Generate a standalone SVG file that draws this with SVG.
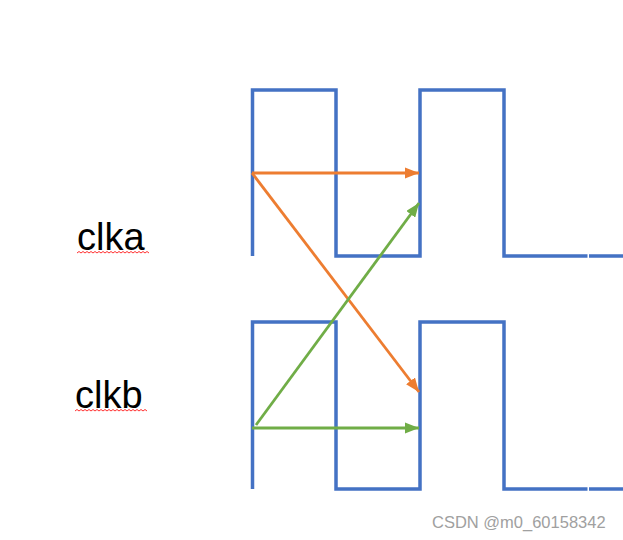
<svg xmlns="http://www.w3.org/2000/svg" width="623" height="540" viewBox="0 0 623 540">
<style>
.wave{fill:none;stroke:#4472C4;stroke-width:3.5;stroke-linejoin:miter}
.lbl{font-family:"Liberation Sans",Arial,sans-serif;font-size:38px;fill:#000}
.sq{fill:none;stroke:#FF3030;stroke-width:1}
.or{stroke:#ED7D31;stroke-width:2.8;fill:none}
.gr{stroke:#70AD47;stroke-width:2.8;fill:none}
.wm{font-family:"Liberation Sans",Arial,sans-serif;font-size:16.5px;fill:#a0a0a0}
</style>
<defs>
<marker id="ao" markerWidth="5" markerHeight="4" refX="5" refY="2" orient="auto" markerUnits="strokeWidth"><path d="M0,0 L5,2 L0,4 Z" fill="#ED7D31"/></marker>
<marker id="ag" markerWidth="5" markerHeight="4" refX="5" refY="2" orient="auto" markerUnits="strokeWidth"><path d="M0,0 L5,2 L0,4 Z" fill="#70AD47"/></marker>
</defs>
<rect width="623" height="540" fill="#fff"/>
<g id="clka">
<path class="wave" d="M252.5,256 V90 H336 V256 H420 V90 H504 V256 H587.5 M589,256 H623"/>
<text class="lbl" x="77" y="250">clka</text>
<path class="sq" d="M77,253 l2,-1.5 l2,1.5 l2,-1.5 l2,1.5 l2,-1.5 l2,1.5 l2,-1.5 l2,1.5 l2,-1.5 l2,1.5 l2,-1.5 l2,1.5 l2,-1.5 l2,1.5 l2,-1.5 l2,1.5 l2,-1.5 l2,1.5 l2,-1.5 l2,1.5 l2,-1.5 l2,1.5 l2,-1.5 l2,1.5 l2,-1.5 l2,1.5 l2,-1.5 l2,1.5 l2,-1.5 l2,1.5 l2,-1.5 l2,1.5 l2,-1.5 l2,1.5 l2,-1.5 l2,1.5"/>
</g>
<g id="clkb">
<path class="wave" d="M252.5,489 V322 H336 V489 H420 V322 H504 V489 H587.5 M589,489 H623"/>
<text class="lbl" x="75" y="408">clkb</text>
<path class="sq" d="M75,411 l2,-1.5 l2,1.5 l2,-1.5 l2,1.5 l2,-1.5 l2,1.5 l2,-1.5 l2,1.5 l2,-1.5 l2,1.5 l2,-1.5 l2,1.5 l2,-1.5 l2,1.5 l2,-1.5 l2,1.5 l2,-1.5 l2,1.5 l2,-1.5 l2,1.5 l2,-1.5 l2,1.5 l2,-1.5 l2,1.5 l2,-1.5 l2,1.5 l2,-1.5 l2,1.5 l2,-1.5 l2,1.5 l2,-1.5 l2,1.5 l2,-1.5 l2,1.5 l2,-1.5 l2,1.5"/>
</g>
<g id="connectors">
<line class="or" x1="252" y1="173" x2="419" y2="173" marker-end="url(#ao)"/>
<line class="or" x1="252" y1="173" x2="419" y2="392" marker-end="url(#ao)"/>
<line class="gr" x1="256" y1="425" x2="419" y2="203" marker-end="url(#ag)"/>
<line class="gr" x1="252" y1="428" x2="419" y2="428" marker-end="url(#ag)"/>
</g>
<text class="wm" x="432" y="528">CSDN @m0_60158342</text>
</svg>
